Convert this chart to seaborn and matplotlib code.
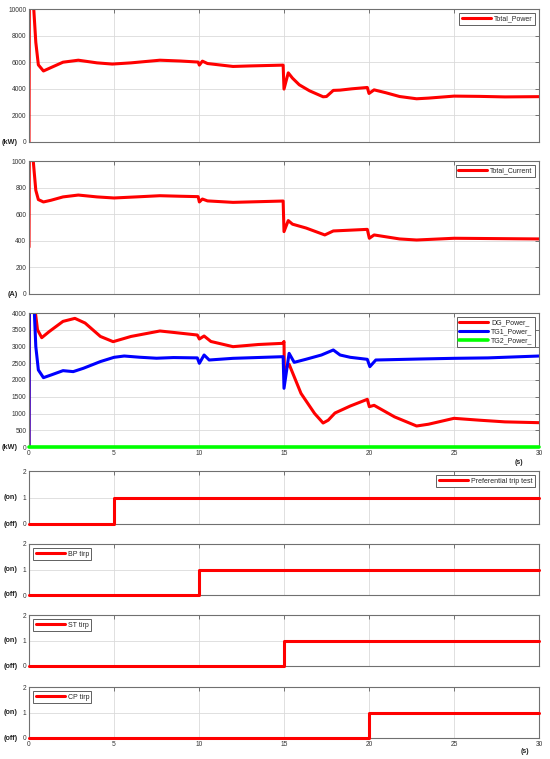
import numpy as np
import pandas as pd
import seaborn as sns
import matplotlib.pyplot as plt
import matplotlib.transforms as mtransforms

sns.set_theme(style="whitegrid")
plt.rcParams['font.family'] = ['Arial', 'Liberation Sans', 'DejaVu Sans']

# Total power (kW)
power_t = [0, 0.03, 0.2, 0.28, 0.4, 0.55, 0.85, 1.3, 2.0, 2.9, 4.0, 4.9, 6.0, 7.7, 8.9,
           9.95, 10.02, 10.2, 10.5, 12, 13, 14.95, 15.0, 15.25, 15.5, 15.9, 16.5, 17.3,
           17.5, 17.9, 18.3, 19.0, 19.9, 20.0, 20.3, 21, 21.8, 22.8, 23.5, 25, 26.5, 28, 30]
power_v = [0, 15000, 12000, 10000, 7500, 5800, 5340, 5600, 6000, 6150, 5950, 5860, 5950, 6150, 6090,
           6010, 5780, 6080, 5900, 5680, 5720, 5780, 3980, 5200, 4800, 4300, 3850, 3400,
           3420, 3880, 3900, 4000, 4100, 3650, 3920, 3700, 3420, 3250, 3300, 3450, 3430, 3390, 3410]

# Total current (A)
current_t = [0, 0.03, 0.25, 0.4, 0.55, 0.85, 1.3, 2.0, 2.9, 4.0, 5.0, 6.3, 7.7, 8.9, 9.95,
             10.02, 10.2, 10.5, 12, 14.95, 15.0, 15.25, 15.5, 16.3, 17.4, 17.9, 19.9,
             20.02, 20.3, 21.8, 22.8, 25, 30]
current_v = [353, 1500, 1000, 780, 710, 692, 705, 730, 744, 730, 722, 730, 739, 735, 732,
             692, 714, 700, 689, 699, 469, 552, 525, 496, 444, 474, 486,
             419, 444, 414, 406, 419, 414]

# Generator powers (kW)
dg_t = [0, 0.03, 0.3, 0.38, 0.5, 0.75, 1.2, 2.0, 2.7, 3.3, 4.2, 4.95, 6, 7.7, 8.5, 9.9,
        10.02, 10.3, 10.7, 12, 13.5, 14.95, 15.0, 15.02, 15.3, 16, 16.8, 17.3, 17.6, 18,
        18.9, 19.9, 20.02, 20.3, 21.5, 22.8, 23.5, 25, 26.5, 28, 30]
dg_v = [0, 6000, 4200, 4000, 3500, 3263, 3450, 3750, 3840, 3700, 3300, 3144, 3300, 3463, 3420, 3343,
        3224, 3313, 3150, 2995, 3060, 3095, 3150, 2300, 2470, 1600, 1000, 716, 800, 1015,
        1224, 1423, 1204, 1244, 900, 627, 680, 856, 800, 750, 726]
tg1_t = [0, 0.03, 0.3, 0.4, 0.55, 0.85, 1.3, 2.0, 2.6, 3.2, 4.2, 5, 5.6, 6.5, 7.5, 8.5, 9.9,
         10.02, 10.3, 10.6, 12, 14.95, 15.0, 15.3, 15.6, 16.3, 17.2, 17.9, 18.3, 18.9, 19.9,
         20.05, 20.4, 23, 25, 27, 30]
tg1_v = [0, 6000, 4200, 3000, 2300, 2070, 2150, 2279, 2250, 2350, 2550, 2677, 2716, 2680, 2650, 2670, 2660,
         2498, 2746, 2597, 2647, 2696, 1752, 2796, 2527, 2620, 2746, 2896, 2746, 2677, 2617,
         2398, 2597, 2627, 2647, 2660, 2716]
tg2_t = [0, 30]
tg2_v = [0, 0]

# Trip signals
trip_labels = ['Preferential trip test', 'BP tirp', 'ST tirp', 'CP tirp']
trip_times = [5, 10, 15, 20]
trip_legend_loc = ['upper right', 'upper left', 'upper left', 'upper left']

W, H = 550, 759
fig = plt.figure(figsize=(W / 100, H / 100), dpi=100)
rows = [(9, 142), (161, 294), (313, 447), (471, 524), (544, 595), (615, 666), (687, 738)]
left, right = 29, 539
axes = []
for top, bot in rows:
    axes.append(fig.add_axes([left / W, 1 - bot / H, (right - left) / W, (bot - top) / H]))

RED, BLUE, GREEN = '#ff0000', '#0000ff', '#00ff00'
LW = 2.2


def style(ax, ylim, yticks, xlabels):
    ax.set_xlim(0, 30)
    ax.set_ylim(*ylim)
    ax.set_yticks(yticks)
    ax.set_xticks(range(0, 31, 5))
    ax.grid(True, color='#dadada', lw=0.6)
    for s in ax.spines.values():
        s.set_color('#707070')
        s.set_linewidth(0.8)
    ax.tick_params(direction='in', length=3, width=0.6, color='#606060',
                   top=True, right=True, labelsize=4.8, labelcolor='#333333', pad=2)
    if not xlabels:
        ax.set_xticklabels([])
    ax.set_xlabel('')
    ax.set_ylabel('')


def legend(ax, loc):
    lg = ax.legend(loc=loc, fontsize=5, frameon=True, fancybox=False, framealpha=1,
                   edgecolor='#606060', handlelength=4.2, borderpad=0.35,
                   labelspacing=0.25, handletextpad=0.4, borderaxespad=0.6)
    lg.get_frame().set_linewidth(0.7)


def unit(ax, txt, y, dx=-0.012):
    tr = mtransforms.blended_transform_factory(ax.transAxes, ax.transData)
    ax.text(dx, y, txt, transform=tr, ha='right', va='center', fontsize=5.2,
            fontweight='bold', color='#222222')


ax = axes[0]
sns.lineplot(x=power_t, y=power_v, estimator=None, sort=False, color=RED, lw=LW,
             label='Total_Power', ax=ax)
style(ax, (0, 10000), range(0, 10001, 2000), False)
legend(ax, 'upper right')
unit(ax, '(kW)', 0, -0.022)

ax = axes[1]
sns.lineplot(x=current_t, y=current_v, estimator=None, sort=False, color=RED, lw=LW,
             label='Total_Current', ax=ax)
style(ax, (0, 1000), range(0, 1001, 200), False)
legend(ax, 'upper right')
unit(ax, '(A)', 0, -0.022)

ax = axes[2]
sns.lineplot(x=dg_t, y=dg_v, estimator=None, sort=False, color=RED, lw=LW,
             label='DG_Power_', ax=ax)
sns.lineplot(x=tg1_t, y=tg1_v, estimator=None, sort=False, color=BLUE, lw=LW,
             label='TG1_Power_', ax=ax)
sns.lineplot(x=tg2_t, y=tg2_v, estimator=None, sort=False, color=GREEN, lw=LW + 0.4,
             label='TG2_Power_', ax=ax, clip_on=False, zorder=3)
style(ax, (0, 4000), range(0, 4001, 500), True)
legend(ax, 'upper right')
unit(ax, '(kW)', 0, -0.022)
ax.text(28.8, -0.09, '(s)', transform=mtransforms.blended_transform_factory(ax.transData, ax.transAxes),
        ha='center', va='top', fontsize=5, fontweight='bold', color='#222222')

for i, (lab, tt, loc) in enumerate(zip(trip_labels, trip_times, trip_legend_loc)):
    ax = axes[3 + i]
    sns.lineplot(x=[0, tt, 30], y=[0, 1, 1], estimator=None, sort=False, color=RED, lw=LW,
                 drawstyle='steps-post', label=lab, ax=ax, clip_on=False, zorder=3)
    style(ax, (0, 2), [0, 1, 2], i == 3)
    legend(ax, loc)
    unit(ax, '(on)', 1, -0.022)
    unit(ax, '(off)', 0, -0.022)

ax = axes[6]
ax.text(29.2, -0.19, '(s)', transform=mtransforms.blended_transform_factory(ax.transData, ax.transAxes),
        ha='center', va='top', fontsize=5, fontweight='bold', color='#222222')

fig.savefig('out.png', dpi=100)
